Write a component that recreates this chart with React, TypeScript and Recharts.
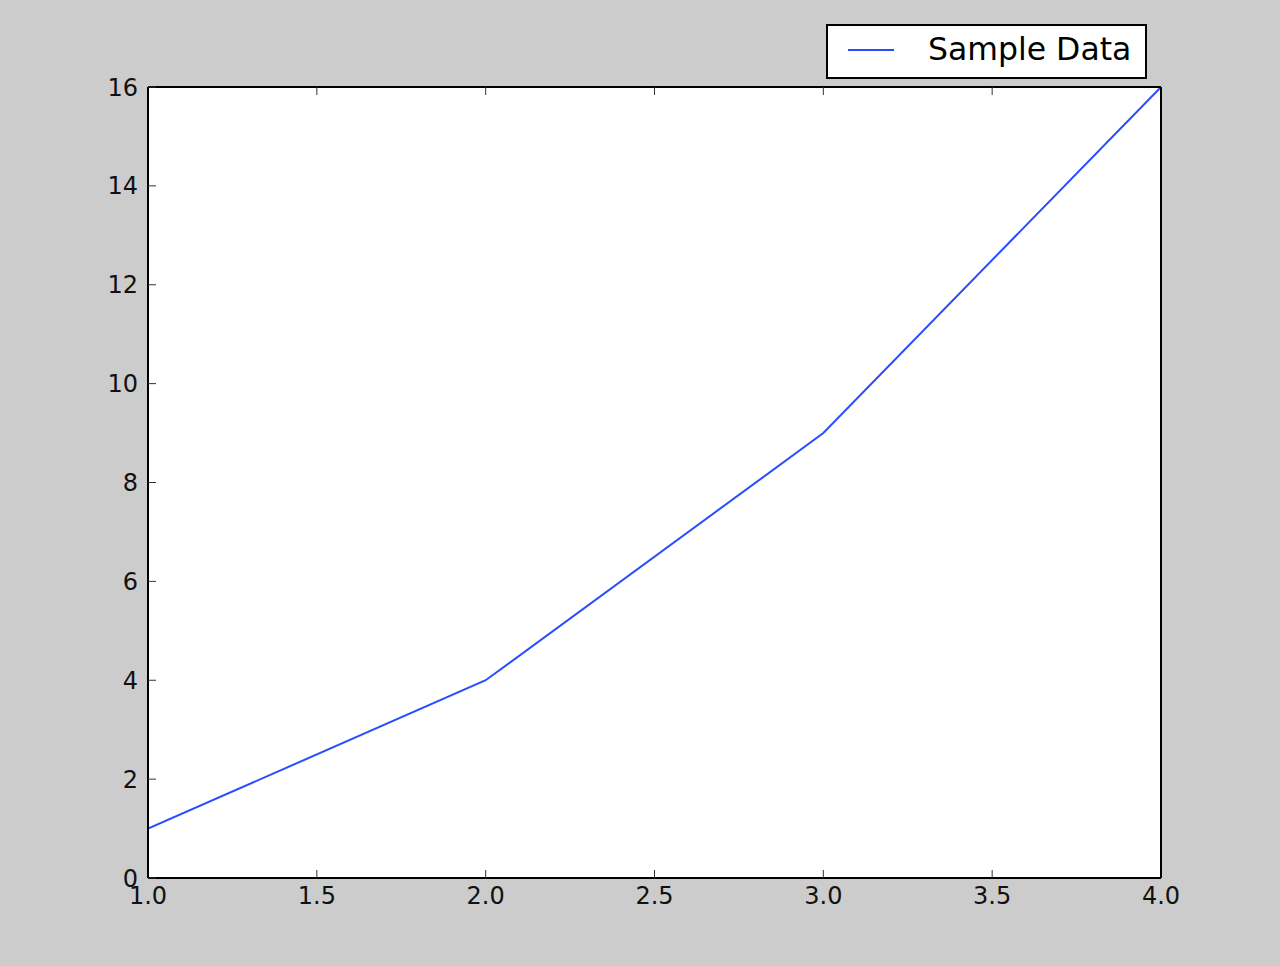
import React from "react";
import { LineChart, Line, XAxis, YAxis, CartesianGrid } from "recharts";

const xValues = [1, 2, 3, 4];
const yValues = [1, 4, 9, 16];
const xTicks = [1.0, 1.5, 2.0, 2.5, 3.0, 3.5, 4.0];
const yTicks = [0, 2, 4, 6, 8, 10, 12, 14, 16];
const seriesName = "Sample Data";

const data = xValues.map((x, i) => ({ x, y: yValues[i] }));

const FONT = "'DejaVu Sans', sans-serif";
const LINE_COLOR = "#2a4cff";

const LegendBox = () => (
  <div
    style={{
      position: "absolute",
      left: 826,
      top: 24,
      width: 317,
      height: 51,
      border: "2px solid #000",
      background: "#fff",
      fontFamily: FONT,
      fontSize: 31.5,
      color: "#000",
    }}
  >
    <svg width={80} height={51} style={{ position: "absolute", left: 0, top: 0 }}>
      <line x1={20} x2={66} y1={24} y2={24} stroke={LINE_COLOR} strokeWidth={2} />
    </svg>
    <span style={{ position: "absolute", left: 100, top: 4, whiteSpace: "nowrap", lineHeight: "38px" }}>
      {seriesName}
    </span>
  </div>
);

export default function App() {
  const tickStyle = { fill: "#111", fontSize: 24, fontFamily: FONT };
  return (
    <div style={{ position: "absolute", left: 0, top: 0, width: 1280, height: 966, background: "#cccccc" }}>
      <LineChart
        width={1280}
        height={966}
        data={data}
        margin={{ top: 86, right: 109, bottom: 48, left: 108 }}
      >
        <CartesianGrid horizontal={false} vertical={false} fill="#ffffff" />
        <XAxis
          dataKey="x"
          type="number"
          domain={[1, 4]}
          ticks={xTicks}
          height={40}
          tickFormatter={(v: number) => v.toFixed(1)}
          tick={tickStyle}
          tickSize={-8}
          tickMargin={17}
          axisLine={{ stroke: "#000", strokeWidth: 2 }}
          tickLine={{ stroke: "#333", strokeWidth: 1 }}
          interval={0}
          allowDataOverflow
        />
        <XAxis
          xAxisId="top"
          orientation="top"
          dataKey="x"
          type="number"
          domain={[1, 4]}
          ticks={xTicks}
          height={1}
          tickFormatter={() => ""}
          tickSize={-8}
          tickMargin={0}
          axisLine={{ stroke: "#000", strokeWidth: 2 }}
          tickLine={{ stroke: "#333", strokeWidth: 1 }}
          interval={0}
        />
        <YAxis
          type="number"
          domain={[0, 16]}
          ticks={yTicks}
          width={40}
          tick={tickStyle}
          tickSize={-8}
          tickMargin={18}
          axisLine={{ stroke: "#000", strokeWidth: 2 }}
          tickLine={{ stroke: "#333", strokeWidth: 1 }}
          interval={0}
          allowDataOverflow
        />
        <YAxis
          yAxisId="right"
          orientation="right"
          type="number"
          domain={[0, 16]}
          ticks={yTicks}
          width={10}
          tickFormatter={() => ""}
          tickSize={-8}
          tickMargin={0}
          axisLine={{ stroke: "#000", strokeWidth: 2 }}
          tickLine={{ stroke: "#333", strokeWidth: 1 }}
          interval={0}
        />
        <Line
          type="linear"
          dataKey="y"
          name={seriesName}
          stroke={LINE_COLOR}
          strokeWidth={2}
          dot={false}
          isAnimationActive={false}
        />
      </LineChart>
      <LegendBox />
    </div>
  );
}
